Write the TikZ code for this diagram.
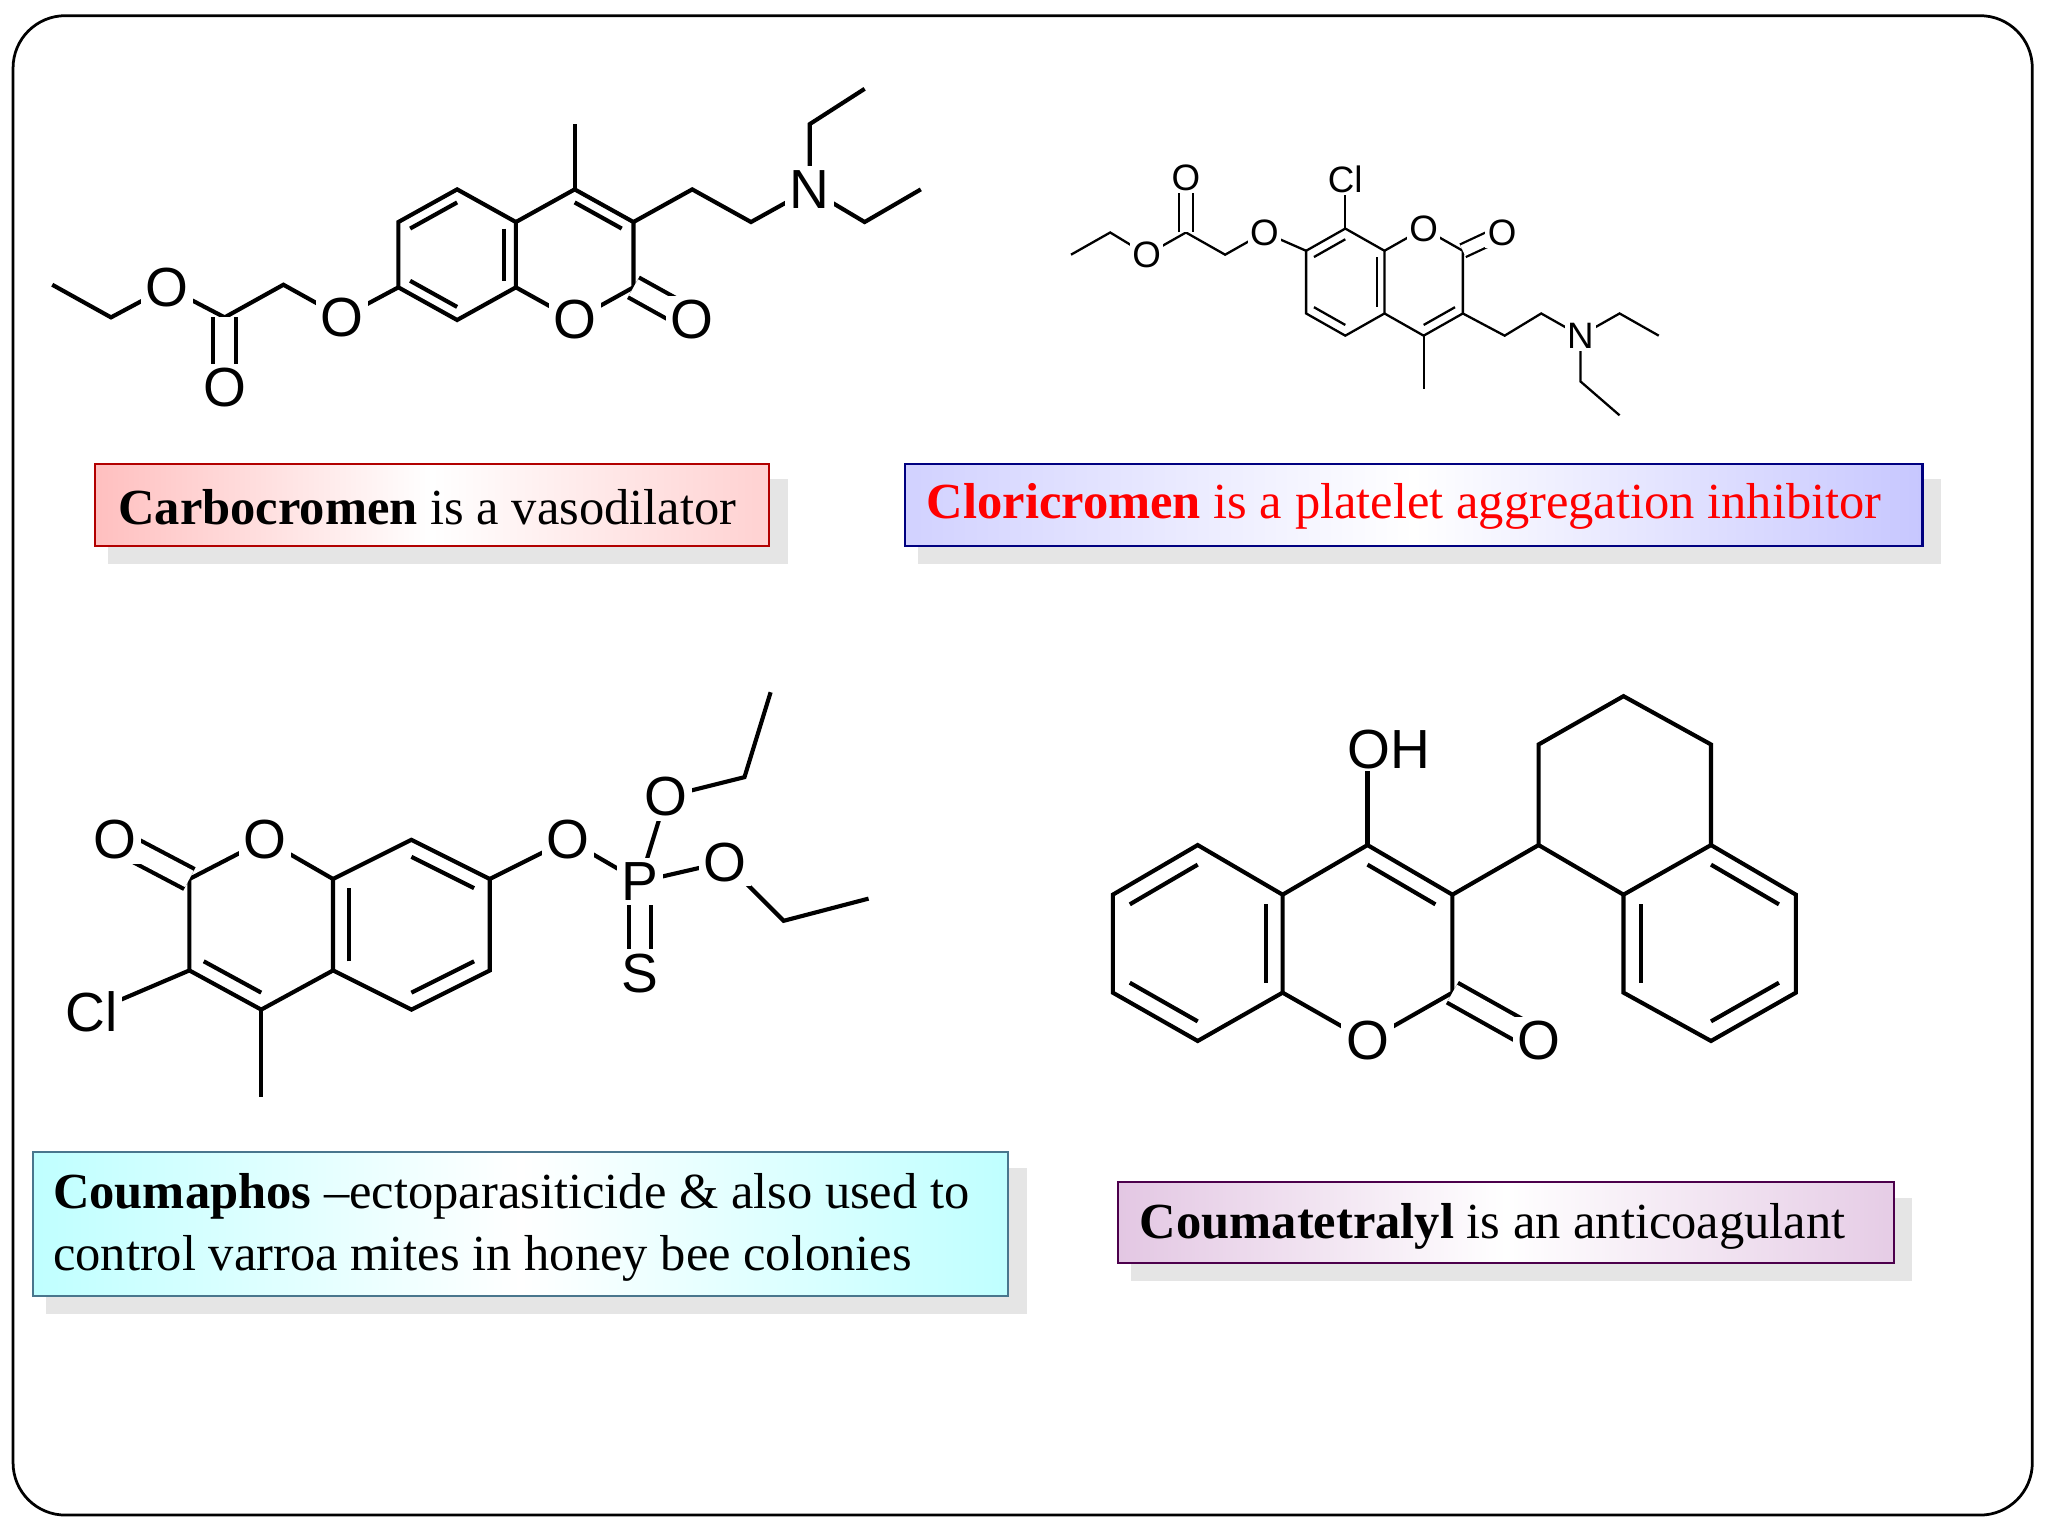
\documentclass[tikz,border=0pt]{standalone}
\usepackage{fontspec}
\setmainfont{Liberation Serif}
\setsansfont{Liberation Sans}
\usetikzlibrary{calc}
\newcommand\dbl[3]{\draw ($(#1)!0.2!(#3)$) -- ($(#2)!0.2!(#3)$);}
\begin{document}
\begin{tikzpicture}[x=0.01cm,y=-0.01cm,
  bond/.style={line width=0.9pt},
  thin/.style={line width=0.5pt},
  atm/.style={fill=white,inner sep=1pt,font=\sffamily\fontsize{12}{12}\selectfont},
  atms/.style={fill=white,inner sep=0.5pt,font=\sffamily\fontsize{8}{8}\selectfont},
  lbl/.style={draw=#1,line width=0.5pt,inner sep=0pt},
  shad/.style={fill=black!10,draw=none},
  txt/.style={font=\fontsize{11}{13.5}\selectfont,anchor=west,align=left,inner sep=0pt}]
\useasboundingbox (0,0) rectangle (1568,1176);
\draw[line width=0.6pt,rounded corners=0.4cm] (10,12) rectangle (1556,1160);

% ===== Carbocromen =====
\begin{scope}[bond]
\coordinate (a1) at (40,218); \coordinate (a2) at (85,243); \coordinate (aO1) at (128,220);
\coordinate (a3) at (172,243); \coordinate (aO2) at (172,297); \coordinate (a4) at (217,218);
\coordinate (aO3) at (262,243);
\coordinate (b1) at (305,220); \coordinate (b2) at (305,170); \coordinate (b3) at (350,145);
\coordinate (b4) at (395,170); \coordinate (b5) at (395,220); \coordinate (b6) at (350,245);
\coordinate (bc) at (350,195);
\coordinate (p1) at (440,145); \coordinate (p2) at (485,170); \coordinate (p3) at (485,220);
\coordinate (pO) at (440,245); \coordinate (pO2) at (530,245); \coordinate (pc) at (440,195);
\coordinate (m1) at (440,95);
\coordinate (s1) at (530,145); \coordinate (s2) at (575,170); \coordinate (aN) at (620,145);
\coordinate (e1) at (620,95); \coordinate (e2) at (662,68); \coordinate (e3) at (662,170); \coordinate (e4) at (705,145);
\draw (a1)--(a2)--(aO1)--(a3)--(a4)--(aO3)--(b1);
\draw (b1)--(b2)--(b3)--(b4)--(b5)--(b6)--cycle;
\draw[double,double distance=4pt] (a3)--(aO2);
\draw (b4)--(p1)--(p2)--(p3)--(pO)--(b5);
\draw[double,double distance=4pt] (p3)--(pO2);
\draw (p1)--(m1); \draw (p2)--(s1)--(s2)--(aN)--(e1)--(e2); \draw (aN)--(e3)--(e4);
\dbl{b2}{b3}{bc} \dbl{b4}{b5}{bc} \dbl{b1}{b6}{bc} \dbl{p1}{p2}{pc}
\node[atm] (nO1) at (aO1) {O}; \node[atm] (nO2) at (aO2) {O}; \node[atm] (nO3) at (aO3) {O};
\node[atm] (nO4) at (pO) {O}; \node[atm] (nO5) at (pO2) {O}; \node[atm] (nN) at (aN) {N};
\end{scope}

% ===== Cloricromen =====
\begin{scope}[thin]
\coordinate (c1) at (1000,192); \coordinate (c2) at (1030,175); \coordinate (c3) at (1060,192);
\coordinate (c4) at (1060,240); \coordinate (c5) at (1030,257); \coordinate (c6) at (1000,240);
\coordinate (cc) at (1030,216);
\coordinate (q1) at (1090,175); \coordinate (q2) at (1120,192); \coordinate (q3) at (1120,240);
\coordinate (q4) at (1090,257); \coordinate (qc) at (1090,216);
\coordinate (cCl) at (1030,137); \coordinate (qO) at (1150,178); \coordinate (qm) at (1090,298);
\coordinate (r1) at (1152,257); \coordinate (r2) at (1180,240); \coordinate (rN) at (1210,257);
\coordinate (r3) at (1240,240); \coordinate (r4) at (1270,257); \coordinate (r5) at (1210,292); \coordinate (r6) at (1240,318);
\coordinate (t1) at (968,178); \coordinate (t2) at (938,195); \coordinate (t3) at (908,178); \coordinate (t4) at (908,136);
\coordinate (t5) at (878,195); \coordinate (t6) at (850,178); \coordinate (t7) at (820,195);
\draw (c1)--(c2)--(c3)--(c4)--(c5)--(c6)--cycle;
\draw (c3)--(q1)--(q2)--(q3)--(q4)--(c4);
\dbl{c1}{c2}{cc} \dbl{c3}{c4}{cc} \dbl{c5}{c6}{cc} \dbl{q3}{q4}{qc}
\draw (c2)--(cCl); \draw[double,double distance=2.5pt] (q2)--(qO); \draw (q4)--(qm);
\draw (q3)--(r1)--(r2)--(rN)--(r3)--(r4); \draw (rN)--(r5)--(r6);
\draw (c1)--(t1)--(t2)--(t3)--(t5)--(t6)--(t7); \draw[double,double distance=2.5pt] (t3)--(t4);
\node[atms] (mCl) at (cCl) {Cl}; \node[atms] (mO1) at (q1) {O}; \node[atms] (mO2) at (qO) {O};
\node[atms] (mN) at (rN) {N}; \node[atms] (mO3) at (t1) {O}; \node[atms] (mO4) at (t4) {O}; \node[atms] (mO5) at (t5) {O};
\end{scope}

% ===== Coumaphos =====
\begin{scope}[bond]
\coordinate (d1) at (255,673); \coordinate (d2) at (315,643); \coordinate (d3) at (375,673);
\coordinate (d4) at (375,743); \coordinate (d5) at (315,773); \coordinate (d6) at (255,743); \coordinate (dc) at (315,708);
\coordinate (u1) at (203,643); \coordinate (u2) at (145,673); \coordinate (u3) at (145,743); \coordinate (u4) at (200,773); \coordinate (uc) at (200,708);
\coordinate (uO) at (88,643); \coordinate (uCl) at (70,775); \coordinate (um) at (200,840);
\coordinate (vO) at (435,643); \coordinate (vP) at (490,675); \coordinate (vO2) at (510,610);
\coordinate (v1) at (570,595); \coordinate (v2) at (590,530); \coordinate (vO3) at (555,660);
\coordinate (v3) at (600,705); \coordinate (v4) at (665,688); \coordinate (vS) at (490,745);
\draw (d1)--(d2)--(d3)--(d4)--(d5)--(d6)--cycle;
\draw (d1)--(u1)--(u2)--(u3)--(u4)--(d6);
\dbl{d2}{d3}{dc} \dbl{d4}{d5}{dc} \dbl{d6}{d1}{dc} \dbl{u3}{u4}{uc}
\draw[double,double distance=4pt] (u2)--(uO); \draw (u3)--(uCl); \draw (u4)--(um);
\draw (d3)--(vO)--(vP)--(vO2)--(v1)--(v2); \draw (vP)--(vO3)--(v3)--(v4);
\draw[double,double distance=4pt] (vP)--(vS);
\node[atm] (kO1) at (uO) {O}; \node[atm] (kO2) at (u1) {O}; \node[atm] (kCl) at (uCl) {Cl};
\node[atm] (kO3) at (vO) {O}; \node[atm] (kP) at (vP) {P}; \node[atm] (kO4) at (vO2) {O};
\node[atm] (kO5) at (vO3) {O}; \node[atm] (kS) at (vS) {S};
\end{scope}

% ===== Coumatetralyl =====
\begin{scope}[bond]
\coordinate (f1) at (852,685); \coordinate (f2) at (917,647); \coordinate (f3) at (982,685);
\coordinate (f4) at (982,760); \coordinate (f5) at (917,797); \coordinate (f6) at (852,760); \coordinate (fc) at (917,722);
\coordinate (g1) at (1047,647); \coordinate (g2) at (1112,685); \coordinate (g3) at (1112,760); \coordinate (g4) at (1047,797); \coordinate (gc) at (1047,722);
\coordinate (gOH) at (1047,590); \coordinate (gO) at (1178,797);
\coordinate (h1) at (1178,647); \coordinate (h2) at (1178,570); \coordinate (h3) at (1243,533);
\coordinate (h4) at (1310,570); \coordinate (h5) at (1310,647); \coordinate (h6) at (1243,685);
\coordinate (i3) at (1375,685); \coordinate (i4) at (1375,760); \coordinate (i5) at (1310,797); \coordinate (i6) at (1243,760); \coordinate (ic) at (1310,722);
\draw (f1)--(f2)--(f3)--(f4)--(f5)--(f6)--cycle;
\draw (f3)--(g1)--(g2)--(g3)--(g4)--(f4);
\dbl{f1}{f2}{fc} \dbl{f3}{f4}{fc} \dbl{f5}{f6}{fc} \dbl{g1}{g2}{gc}
\draw (g1)--(gOH); \draw[double,double distance=4pt] (g3)--(gO);
\draw (g2)--(h1);
\draw (h1)--(h2)--(h3)--(h4)--(h5)--(h6)--cycle;
\draw (h5)--(i3)--(i4)--(i5)--(i6)--(h6);
\dbl{h5}{i3}{ic} \dbl{i4}{i5}{ic} \dbl{i6}{h6}{ic}
\node[atm,anchor=south west,inner sep=0pt] (wOH) at (1030,590) {OH};
\node[atm] (wO1) at (g4) {O}; \node[atm] (wO2) at (gO) {O};
\end{scope}

% ===== Label boxes =====
\fill[shad] (83,367) rectangle (603,432);
\shade[left color=red!25!white,right color=red!18!white,middle color=white] (73,355) rectangle (589,418);
\draw[lbl=red!70!black] (73,355) rectangle (589,418);
\node[txt] (L1) at (90,388) {\textbf{Carbocromen} is a vasodilator};

\fill[shad] (703,367) rectangle (1486,432);
\shade[left color=blue!18!white,right color=blue!22!white,middle color=white] (693,355) rectangle (1472,418);
\draw[lbl=blue!50!black] (693,355) rectangle (1472,418);
\node[txt,text=red] (L2) at (709,388) {\textbf{Cloricromen} is a platelet aggregation inhibitor};

\fill[shad] (35,894) rectangle (786,1006);
\shade[left color=cyan!25!white,right color=cyan!25!white,middle color=white] (25,882) rectangle (772,992);
\draw[lbl=cyan!50!black] (25,882) rectangle (772,992);
\node[txt] (L3) at (40,940) {\textbf{Coumaphos} –ectoparasiticide \& also used to\\control varroa mites in honey bee colonies};

\fill[shad] (866,917) rectangle (1464,981);
\shade[left color=violet!22!white,right color=violet!20!white,middle color=white] (856,905) rectangle (1450,967);
\draw[lbl=violet!60!black] (856,905) rectangle (1450,967);
\node[txt] (L4) at (872,939) {\textbf{Coumatetralyl} is an anticoagulant};
\end{tikzpicture}
\end{document}
